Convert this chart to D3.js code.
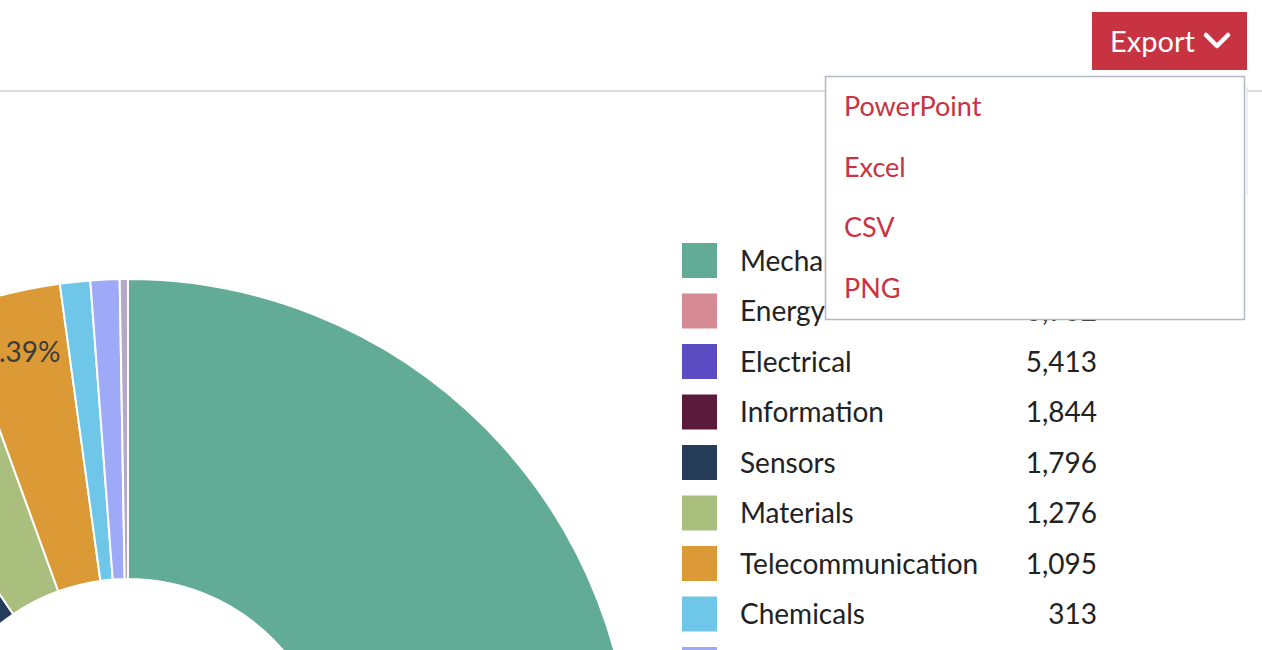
<!DOCTYPE html>
<html>
<head>
<meta charset="utf-8">
<script src="https://cdn.jsdelivr.net/npm/d3@7"></script>
<style>
    body { margin: 0; background: #fff; font-family: Lato, "Noto Sans", sans-serif; overflow: hidden; }
</style>
</head>
<body>
<svg id="chart" width="1262" height="650"></svg>
<script>
/**
 * Data.
 */
const categories = ['Mechanical', 'Energy', 'Electrical', 'Information', 'Sensors', 'Materials',
    'Telecommunication', 'Chemicals', 'Biotechnology', 'Other'];
const counts = [16246, 3932, 5413, 1844, 1796, 1276, 1095, 313, 300, 85];
const colors = ['#62ab96', '#d58a94', '#5b4cc4', '#5a1a3c', '#243c5a', '#aabf7d',
    '#db9a36', '#6ec6e8', '#9eaaf7', '#b4a9c9'];
const exportItems = ['PowerPoint', 'Excel', 'CSV', 'PNG'];

const data = categories.map((c, i) => ({ name: c, value: counts[i] }));
const total = d3.sum(counts);
const svg = d3.select('#chart');
const fmt = d3.format(',');

// Header rule
svg.append('line').attr('x1', 0).attr('x2', 1262).attr('y1', 91).attr('y2', 91)
    .attr('stroke', '#dcdcdc').attr('stroke-width', 2);

// Donut
const cx = 128, cy = 783, outerR = 504, innerR = 204;
const pie = d3.pie().sort(null).value(d => d.value);
const arc = d3.arc().innerRadius(innerR).outerRadius(outerR);
const labelArc = d3.arc().innerRadius(outerR * 0.88).outerRadius(outerR * 0.88);
const colorScale = d3.scaleOrdinal().domain(categories).range(colors);

const g = svg.append('g').attr('transform', `translate(${cx},${cy})`);
const arcs = pie(data);
g.selectAll('path').data(arcs).join('path')
    .attr('d', arc)
    .attr('fill', d => colorScale(d.data.name))
    .attr('stroke', '#fff').attr('stroke-width', 2);

g.selectAll('text').data(arcs.filter(d => d.data.value / total > 0.03)).join('text')
    .attr('transform', d => `translate(${labelArc.centroid(d)})`)
    .attr('text-anchor', 'middle').attr('dy', '0.35em')
    .attr('font-size', 28).attr('fill', '#3c3c3c')
    .text(d => (d.data.value / total * 100).toFixed(2) + '%');

// Legend
const legend = svg.append('g');
const rowY = d3.scaleLinear().domain([0, 1]).range([243, 293.5]);
const rows = legend.selectAll('g').data(data).join('g')
    .attr('transform', (d, i) => `translate(0,${rowY(i)})`);
rows.append('rect').attr('x', 682).attr('width', 35).attr('height', 35)
    .attr('fill', d => colorScale(d.name));
rows.append('text').attr('x', 740).attr('y', 18).attr('dy', '0.35em')
    .attr('font-size', 28).attr('fill', '#222').text(d => d.name);
rows.append('text').attr('x', 1097).attr('y', 18).attr('dy', '0.35em')
    .attr('text-anchor', 'end').attr('font-size', 28).attr('fill', '#222').text(d => fmt(d.value));

// Export button
const btn = svg.append('g');
btn.append('rect').attr('x', 1092).attr('y', 12).attr('width', 155).attr('height', 58).attr('fill', '#c83342');
btn.append('text').attr('x', 1110).attr('y', 42).attr('dy', '0.35em')
    .attr('font-size', 29).attr('fill', '#fff').text('Export');
btn.append('path').attr('d', 'M1206,35 L1217,46 L1228,35')
    .attr('fill', 'none').attr('stroke', '#fff').attr('stroke-width', 4.5)
    .attr('stroke-linecap', 'round').attr('stroke-linejoin', 'round');

// Dropdown menu
const menu = svg.append('g');
menu.append('rect').attr('x', 1235).attr('y', 88).attr('width', 12).attr('height', 106)
    .attr('fill', '#fff').attr('stroke', '#dde0e4');
menu.append('rect').attr('x', 825.5).attr('y', 76.5).attr('width', 419).attr('height', 243)
    .attr('fill', '#fff').attr('stroke', '#b3b8c2').attr('stroke-width', 1.5);
const itemY = d3.scaleLinear().domain([0, 1]).range([107, 167.5]);
menu.selectAll('text').data(exportItems).join('text')
    .attr('x', 844).attr('y', (d, i) => itemY(i)).attr('dy', '0.35em')
    .attr('font-size', 27).attr('fill', '#c8333f').text(d => d);
</script>
</body>
</html>
